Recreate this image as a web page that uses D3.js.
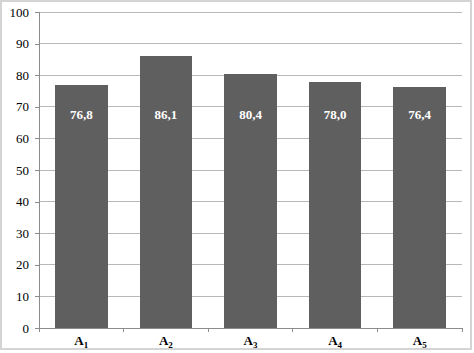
<!DOCTYPE html>
<html><head><meta charset="utf-8">
<script src="https://cdn.jsdelivr.net/npm/d3@7"></script>
<style>body{margin:0;background:#fff}svg{display:block}
text{font-family:"Liberation Serif","Times New Roman",Tinos,serif !important}</style>
</head><body>
<script>
const categories = ["1","2","3","4","5"];
const values = [76.8, 86.1, 80.4, 78.0, 76.4];
const valueLabels = ["76,8","86,1","80,4","78,0","76,4"];
const yTicks = [0,10,20,30,40,50,60,70,80,90,100];

const W = 474, H = 353;
const m = {left: 39, right: 12, top: 12, bottom: 25};
const svg = d3.select("body").append("svg").attr("width", W).attr("height", H);

svg.append("rect").attr("x",1).attr("y",1).attr("width",W-4).attr("height",H-5)
  .attr("fill","#fff").attr("stroke","#d4d4d4").attr("stroke-width",2);

const x = d3.scaleBand().domain(categories).range([m.left, W - m.right]).paddingInner(0.38).paddingOuter(0.19);
const y = d3.scaleLinear().domain([0,100]).range([H - m.bottom, m.top]);

// gridlines
svg.append("g").selectAll("line").data(yTicks.filter(d=>d>0)).join("line")
  .attr("x1", m.left).attr("x2", W - m.right)
  .attr("y1", d=>y(d)).attr("y2", d=>y(d))
  .attr("stroke","#b8b8b8").attr("stroke-width",1).attr("shape-rendering","crispEdges");

// bars
svg.append("g").selectAll("rect").data(values).join("rect")
  .attr("x",(d,i)=>x(categories[i])).attr("width",x.bandwidth())
  .attr("y",d=>y(d)).attr("height",d=>y(0)-y(d))
  .attr("fill","#5f5f5f").attr("shape-rendering","crispEdges");

// value labels
svg.append("g").selectAll("text").data(valueLabels).join("text")
  .attr("x",(d,i)=>x(categories[i])+x.bandwidth()/2)
  .attr("y", y(67.5)).attr("dy","0.35em")
  .attr("text-anchor","middle").attr("fill","#fff")
  .attr("font-weight","bold").attr("font-size",13)
  .text(d=>d);

// y axis
const ya = d3.axisLeft(y).tickValues(yTicks).tickSize(4).tickPadding(6);
const gy = svg.append("g").attr("transform",`translate(${m.left},0)`).call(ya);
gy.attr("font-family",null);
gy.selectAll("text").attr("font-size",13).attr("fill","#000");
gy.selectAll("line,path").attr("stroke","#8c8c8c").attr("shape-rendering","crispEdges");
gy.select(".domain").attr("d",`M0,${y(0)}V${y(100)}`);

// x axis
const boundaries = d3.range(categories.length+1).map(i=>m.left + i*(W-m.right-m.left)/categories.length);
const gx = svg.append("g");
gx.append("line").attr("x1",m.left).attr("x2",W-m.right).attr("y1",y(0)).attr("y2",y(0))
  .attr("stroke","#8c8c8c").attr("shape-rendering","crispEdges");
gx.selectAll("line.t").data(boundaries).join("line").attr("class","t")
  .attr("x1",d=>d).attr("x2",d=>d).attr("y1",y(0)).attr("y2",y(0)+4)
  .attr("stroke","#8c8c8c").attr("shape-rendering","crispEdges");
const lab = gx.selectAll("text").data(categories).join("text")
  .attr("x",d=>x(d)+x.bandwidth()/2).attr("y",y(0)+17)
  .attr("text-anchor","middle")
  .attr("font-weight","bold").attr("font-size",13).attr("fill","#000");
lab.append("tspan").text("A");
lab.append("tspan").attr("font-size",9).attr("dy",3).text(d=>d);
</script>
</body></html>
